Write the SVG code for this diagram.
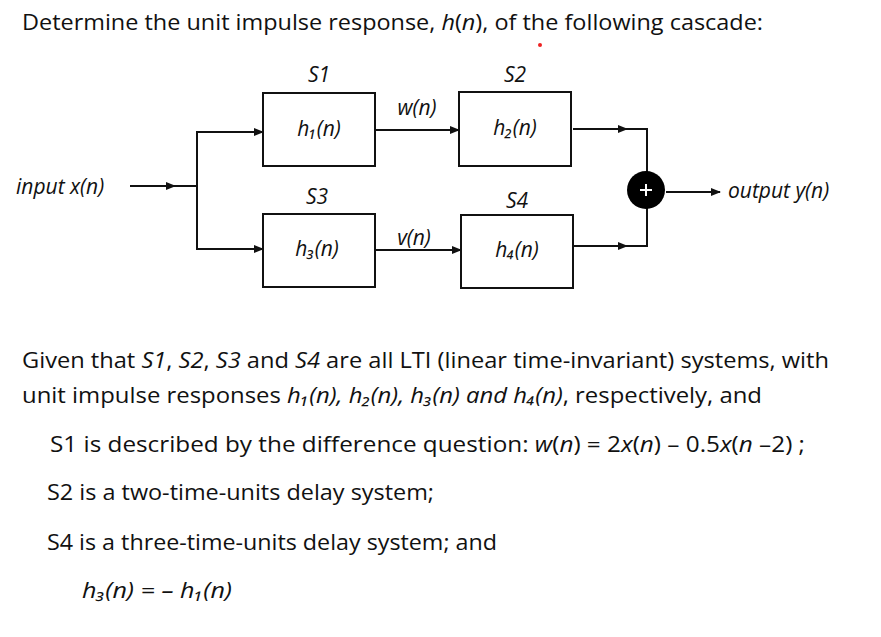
<svg xmlns="http://www.w3.org/2000/svg" width="881" height="637" viewBox="0 0 881 637">
<style>
text{font-family:"Open Sans","Liberation Sans",sans-serif;fill:#111}
.t{font-size:21px}
.d{font-size:21px;font-style:italic}
.box{fill:#fff;stroke:#111;stroke-width:2}
.ln{fill:none;stroke:#111;stroke-width:2}
i,.i{font-style:italic}
</style>
<defs><marker id="a" markerWidth="10" markerHeight="8" refX="9" refY="4" orient="auto" markerUnits="userSpaceOnUse"><path d="M0,0L10,4L0,8z" fill="#111"/></marker></defs>
<rect width="881" height="637" fill="#fff"/>
<text class="t" x="22" y="30" textLength="741" lengthAdjust="spacingAndGlyphs">Determine the unit impulse response, <tspan class="i">h</tspan>(<tspan class="i">n</tspan>), of the following cascade:</text>
<circle cx="540" cy="45" r="2" fill="#e22"/>
<g id="connectors">
<path class="ln" d="M130,186H175" marker-end="url(#a)"/><path class="ln" d="M175,186H197"/>
<path class="ln" d="M197,249V132H263" marker-end="url(#a)"/>
<path class="ln" d="M197,186V249H263" marker-end="url(#a)"/>
<path class="ln" d="M375,130H459" marker-end="url(#a)"/>
<path class="ln" d="M375,250H461" marker-end="url(#a)"/>
<path class="ln" d="M573,129H627" marker-end="url(#a)"/><path class="ln" d="M625,129H647V175"/>
<path class="ln" d="M573,246H627" marker-end="url(#a)"/><path class="ln" d="M625,246H647V205"/>
<path class="ln" d="M666,192H720" marker-end="url(#a)"/>
</g>
<g id="S1"><rect class="box" x="263" y="93" width="112" height="73"/><text class="d" x="319" y="82" text-anchor="middle">S1</text><text class="d" x="319" y="136" text-anchor="middle">h₁(n)</text></g>
<g id="S2"><rect class="box" x="459" y="92" width="112" height="74"/><text class="d" x="515" y="82" text-anchor="middle">S2</text><text class="d" x="515" y="135" text-anchor="middle">h₂(n)</text></g>
<g id="S3"><rect class="box" x="263" y="214" width="112" height="73"/><text class="d" x="317" y="204" text-anchor="middle">S3</text><text class="d" x="317" y="256" text-anchor="middle">h₃(n)</text></g>
<g id="S4"><rect class="box" x="461" y="215" width="112" height="73"/><text class="d" x="517" y="208" text-anchor="middle">S4</text><text class="d" x="517" y="257" text-anchor="middle">h₄(n)</text></g>
<g id="sum"><circle cx="646" cy="190" r="19" fill="#000"/><path d="M640,190h12M646,184v12" stroke="#fff" stroke-width="2"/></g>
<text class="d" x="16" y="194">input x(n)</text>
<text class="d" x="417" y="115" text-anchor="middle">w(n)</text>
<text class="d" x="414" y="245" text-anchor="middle">v(n)</text>
<text class="d" x="728" y="198">output y(n)</text>
<text class="t" x="22" y="368" textLength="807" lengthAdjust="spacingAndGlyphs">Given that <tspan class="i">S1</tspan>, <tspan class="i">S2</tspan>, <tspan class="i">S3</tspan> and <tspan class="i">S4</tspan> are all LTI (linear time-invariant) systems, with</text>
<text class="t" x="22" y="403" textLength="740" lengthAdjust="spacingAndGlyphs">unit impulse responses <tspan class="i">h₁(n), h₂(n), h₃(n) and h₄(n)</tspan>, respectively, and</text>
<text class="t" x="50" y="452" textLength="755" lengthAdjust="spacingAndGlyphs">S1 is described by the difference question:   <tspan class="i">w</tspan>(<tspan class="i">n</tspan>) = 2<tspan class="i">x</tspan>(<tspan class="i">n</tspan>) – 0.5<tspan class="i">x</tspan>(<tspan class="i">n</tspan> –2) ;</text>
<text class="t" x="47" y="500" textLength="387" lengthAdjust="spacingAndGlyphs">S2 is a two-time-units delay system;</text>
<text class="t" x="47" y="550" textLength="450" lengthAdjust="spacingAndGlyphs">S4 is a three-time-units delay system; and</text>
<text class="d" x="82" y="598" textLength="150" lengthAdjust="spacingAndGlyphs">h₃(n) = – h₁(n)</text>
</svg>
